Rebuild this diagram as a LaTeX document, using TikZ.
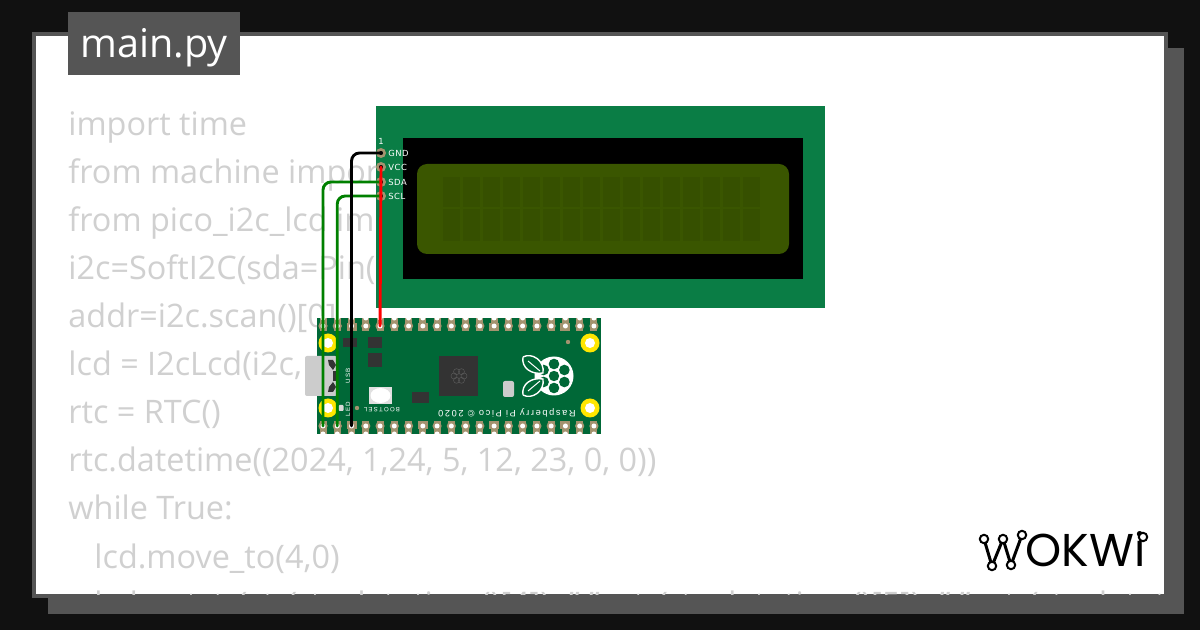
\documentclass[tikz,border=0pt]{standalone}
\usepackage{fontspec}
\setmainfont{Open Sans}
\newfontfamily\logofont{Poppins}
\newfontfamily\silkfont[LetterSpace=18]{Liberation Sans}
\newfontfamily\lcdfont[LetterSpace=6]{DejaVu Sans}
\definecolor{bgdark}{HTML}{111111}
\definecolor{framegray}{HTML}{555555}
\definecolor{codegray}{HTML}{D0D0D0}
\definecolor{lcdgreen}{HTML}{0A7D45}
\definecolor{lcdscreen}{HTML}{3A5600}
\definecolor{lcdcell}{HTML}{365000}
\definecolor{picogreen}{HTML}{006837}
\definecolor{padtan}{HTML}{A4936F}
\definecolor{chipdark}{HTML}{333333}
\definecolor{ringyellow}{HTML}{FFE600}
\definecolor{wiregreen}{HTML}{008000}
\tikzset{
	codeline/.style={anchor=base west,inner sep=0pt,text=codegray,font=\fontsize{16.2}{16.2}\selectfont},
	lcdpad/.style={circle,fill=black,draw=padtan,line width=1.3pt,minimum size=3.6pt,inner sep=0pt},
	lcdlabel/.style={anchor=west,inner sep=0pt,text=white,font=\lcdfont\fontsize{4.2}{4.2}\selectfont},
	silk/.style={inner sep=0pt,text=white,font=\silkfont\fontsize{3.1}{3.1}\selectfont},
	wire/.style={line width=1.45pt,rounded corners=4pt,line cap=round},
	logoline/.style={line width=1.5pt,line cap=round,line join=round},
	logodot/.style={circle,fill=white,draw=black,line width=1pt,minimum size=4.2pt,inner sep=0pt},
}
\begin{document}
\begin{tikzpicture}[x=0.5pt,y=-0.5pt]
	\useasboundingbox (0,0) rectangle (1200,630);
	\fill[bgdark] (0,0) rectangle (1200,630);
	\fill[framegray] (48,48) rectangle (1184,614);
	\fill[framegray] (32,32) rectangle (1168,598);
	\fill[white] (36,36) rectangle (1164,594);
	% code
	\begin{scope}
		\clip (36,36) rectangle (1164,594);
		\node[codeline] (l0) at (68,136) {import time};
		\node[codeline] (l1) at (68,184) {from machine import};
		\node[codeline] (l2) at (68,232) {from pico\_i2c\_lcd import};
		\node[codeline] (l3) at (68,280) {i2c=SoftI2C(sda=Pin(};
		\node[codeline] (l4) at (68,328) {addr=i2c.scan()[0]};
		\node[codeline] (l5) at (68,376) {lcd = I2cLcd(i2c,};
		\node[codeline] (l6) at (68,424) {rtc = RTC()};
		\node[codeline] (l7) at (68,472) {rtc.datetime((2024, 1,24, 5, 12, 23, 0, 0))};
		\node[codeline] (l8) at (68,520) {while True:};
		\node[codeline] (l9) at (94,568) {lcd.move\_to(4,0)};
		\node[codeline] (l10) at (94,616) {lcd.putstr(str(rtc.datetime()[4])+":"+str(rtc.datetime()[5])+":"+str(rtc.datetime()[6]))};
	\end{scope}
	% tab
	\fill[framegray] (68,12) rectangle (240,75);
	\node[anchor=base west,inner sep=0pt,text=white,font=\fontsize{19.8}{19.8}\selectfont] (tab) at (80,58) {main.py};
	% lcd
	\fill[lcdgreen] (375.5,106) rectangle (824.5,308);
	\fill[black] (403,138) rectangle (803,279);
	\fill[lcdscreen,rounded corners=5pt] (417,164) rectangle (789,254);
	\foreach \i in {0,...,15}{
		\fill[lcdcell] (443+20*\i,177) rectangle +(17,30);
		\fill[lcdcell] (443+20*\i,209) rectangle +(17,32);
	}
	\node[lcdlabel] (one) at (378,141) {1};
	\node[lcdpad] (gnd) at (381,153) {};
	\node[lcdpad] (vcc) at (381,167) {};
	\node[lcdpad] (sda) at (381,182) {};
	\node[lcdpad] (scl) at (381,196) {};
	\node[lcdlabel] (gndl) at (388,153) {GND};
	\node[lcdlabel] (vccl) at (388,167) {VCC};
	\node[lcdlabel] (sdal) at (388,182) {SDA};
	\node[lcdlabel] (scll) at (388,196) {SCL};
	% pico
	\fill[picogreen] (317,318) rectangle (601,434);
	\foreach \i in {0,...,19}{
		\pgfmathsetmacro{\px}{323+14.26*\i}
		\fill[padtan] (\px-3.5,318) rectangle (\px+3.5,331);
		\fill[padtan] (\px-3.5,421) rectangle (\px+3.5,434);
		\fill[white] (\px,318) circle (2.5);
		\fill[white] (\px,434) circle (2.5);
		\coordinate (top\i) at (\px,326);
		\coordinate (bot\i) at (\px,426);
		\fill[padtan] (top\i) circle (4.6);
		\fill[padtan] (bot\i) circle (4.6);
		\fill[white] (top\i) circle (2.5);
		\fill[white] (bot\i) circle (2.5);
	}
	\foreach \i in {2,7,12,17}{
		\fill[padtan] ([xshift=-2.5pt,yshift=2.5pt]bot\i) rectangle ([xshift=2.5pt,yshift=-1.5pt]bot\i);
		\fill[padtan] ([xshift=-2.5pt,yshift=1.5pt]top\i) rectangle ([xshift=2.5pt,yshift=-2.5pt]top\i);
		\fill[white] (bot\i) circle (2.5);
		\fill[white] (top\i) circle (2.5);
	}
	\foreach \x/\y in {328/343,328/408,590/343,590/408}{
		\fill[ringyellow] (\x,\y) circle (9.5);
		\fill[white] (\x,\y) circle (5);
	}
	% usb
	\fill[black!20,rounded corners=1pt] (305,356) rectangle (337,396);
	\fill[chipdark] (328,360) -- (333,360) -- (336,365) -- (333,370) -- (329,365) -- cycle;
	\fill[chipdark] (333,371) rectangle (336,381);
	\fill[chipdark] (328,392) -- (333,392) -- (336,387) -- (333,382) -- (329,387) -- cycle;
	% parts
	\fill[chipdark] (343,338) rectangle (357,347);
	\fill[chipdark] (367.5,337) rectangle (381.5,348);
	\fill[chipdark] (367.5,353) rectangle (381.5,367);
	\fill[chipdark] (412,392) rectangle (429,403);
	\fill[chipdark] (439,356) rectangle (478,396);
	\foreach \a in {0,60,...,300}
		\draw[black!65,line width=0.25pt] (459,376)+(\a:5) circle (3);
	\fill[black!12] (369,387) rectangle (392,404);
	\fill[white] (380.5,395.5) ellipse (10 and 7.5);
	\fill[black!20,rounded corners=1pt] (503,381) rectangle (514,397);
	\fill[black!15,rounded corners=0.5pt] (338.5,405) rectangle (343.5,411);
	\fill[padtan] (568,342) circle (2.2);
	\fill[padtan] (357,408) circle (2.2);
	\node[silk,rotate=90] (usbl) at (348,376) {USB};
	\node[silk,rotate=90] (ledl) at (348,409) {LED};
	\node[silk,rotate=180] (bootl) at (382,410) {BOOTSEL};
	\node[silk,rotate=180,font=\silkfont\fontsize{4.6}{4.6}\selectfont] (namel) at (507,412.5) {Raspberry Pi Pico © 2020};
	% raspberry
	\fill[white] (554,376) circle (19.5);
	\foreach \a in {0,60,...,300}
		\fill[picogreen] (554,376)+(\a+30:12) circle (5.3);
	\fill[picogreen] (554,376) circle (5.2);
	\draw[white,line width=0.7pt,fill=picogreen] (523,357) .. controls (532,352) and (545,361) .. (543,373) .. controls (532,375) and (521,368) .. (523,357);
	\draw[white,line width=0.7pt,fill=picogreen] (523,395) .. controls (532,400) and (545,391) .. (543,379) .. controls (532,377) and (521,384) .. (523,395);
	\draw[white,line width=0.5pt] (528,361) -- (540,371);
	\draw[white,line width=0.5pt] (528,391) -- (540,381);
	% wires
	\draw[wire,wiregreen] (sda.center) -| (bot0);
	\draw[wire,wiregreen] (scl.center) -| (bot1);
	\draw[wire,black] (gnd.center) -| (bot2);
	\draw[wire,red] (vcc.center) -- (top4);
	% logo
	\coordinate (wa) at (984,539);
	\coordinate (wb) at (992,566);
	\coordinate (wc) at (1003,539);
	\coordinate (wd) at (1011,565);
	\coordinate (we) at (1022,535);
	\draw[logoline] (wa) -- (wb) -- (wc) -- (wd) -- (we);
	\node[logodot] (da) at (wa) {};
	\node[logodot] (db) at (wb) {};
	\node[logodot] (dc) at (wc) {};
	\node[logodot] (dd) at (wd) {};
	\node[logodot] (de) at (we) {};
	\node[anchor=base west,inner sep=0pt,text=black,font=\logofont\fontsize{23}{23}\selectfont] (logo) at (1025,567) {OKWi};
	\node[logodot] (di) at (1143,537) {};
\end{tikzpicture}
\end{document}
